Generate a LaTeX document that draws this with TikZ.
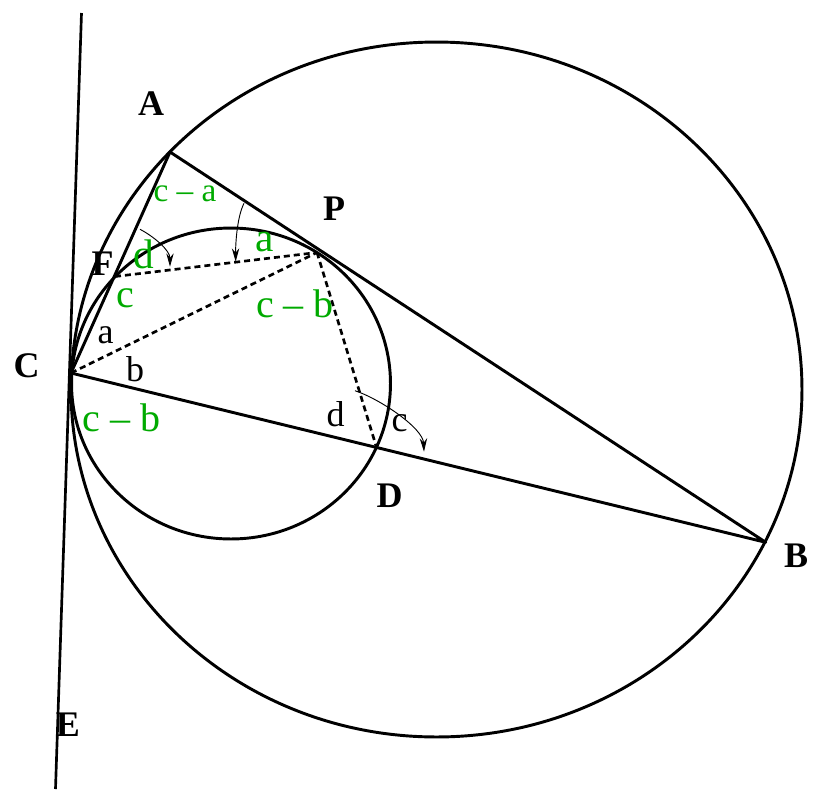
\documentclass[tikz,border=0pt]{standalone}
\usepackage{fontspec}
\setmainfont{Liberation Serif}
\usetikzlibrary{arrows.meta}
\definecolor{lblgreen}{RGB}{0,170,0}
\begin{document}
\begin{tikzpicture}[x=0.75pt,y=-0.75pt,
  mainline/.style={line width=2.2pt, line join=round},
  tanline/.style={line width=2pt},
  dashline/.style={line width=2pt, dash pattern=on 4.5pt off 3pt},
  anglearrow/.style={line width=0.7pt, -{Stealth[length=10pt,width=5.5pt]}},
  ptlabel/.style={font=\fontsize{27}{32}\selectfont\bfseries, anchor=base, inner sep=0pt},
  blabel/.style={font=\fontsize{27}{32}\selectfont, anchor=base, inner sep=0pt},
  glabel/.style={text=lblgreen, anchor=base, inner sep=0pt},
]
\useasboundingbox (0,0) rectangle (827,789);

% points
\coordinate (A) at (170,152);
\coordinate (B) at (765.7,542.3);
\coordinate (C) at (71,373);
\coordinate (P) at (317,252.5);
\coordinate (F) at (115,276.5);
\coordinate (D) at (376.7,448);
\coordinate (T1) at (81.5,13);
\coordinate (T2) at (55.5,789);
\coordinate (O1) at (436.5,389.5);
\coordinate (O2) at (231,383.5);

% circles
\draw[mainline] (O1) ellipse [x radius=274.1pt, y radius=260.6pt];
\draw[mainline] (O2) ellipse [x radius=119.6pt, y radius=116.6pt];

% tangent line
\draw[tanline] (T1) -- (T2);

% triangle
\draw[mainline] (A) -- (B) -- (C) -- cycle;

% dashed chords
\draw[dashline] (F) -- (P);
\draw[dashline] (C) -- (P);
\draw[dashline] (P) -- (D);

% angle arrows
\coordinate (s1) at (140,229.3);
\coordinate (e1) at (170,266.7);
\draw[anglearrow] (s1) .. controls (153,236) and (170,250) .. (e1);
\coordinate (s2) at (244,203.3);
\coordinate (e2) at (235.7,261.7);
\draw[anglearrow] (s2) .. controls (237,217) and (235.5,244) .. (e2);
\coordinate (s3) at (355,390.7);
\coordinate (e3) at (424,451.7);
\draw[anglearrow] (s3) .. controls (380,399) and (423,428) .. (e3);

% point labels
\node[ptlabel] (lA) at (151,115) {A};
\node[ptlabel] (lP) at (334,220) {P};
\node[ptlabel] (lF) at (102.5,275) {F};
\node[ptlabel] (lC) at (26.5,377) {C};
\node[ptlabel] (lD) at (389.5,507) {D};
\node[ptlabel] (lB) at (796,567) {B};
\node[ptlabel] (lE) at (68,736) {E};

% green labels
\node[glabel, font=\fontsize{25}{30}\selectfont] (gca) at (185,201.7) {c – a};
\node[glabel, font=\fontsize{31}{36}\selectfont] (ga) at (264.5,251.7) {a};
\node[glabel, font=\fontsize{31}{36}\selectfont] (gd) at (144,268) {d};
\node[glabel, font=\fontsize{30}{36}\selectfont] (gc) at (125,307) {c};
\node[glabel, font=\fontsize{30}{36}\selectfont] (gcb1) at (295,317) {c – b};
\node[glabel, font=\fontsize{30}{36}\selectfont] (gcb2) at (121.5,431.7) {c – b};

% black labels
\node[blabel] (ba) at (105.5,343.3) {a};
\node[blabel] (bb) at (135,381.7) {b};
\node[blabel] (bd) at (335.5,426) {d};
\node[blabel] (bc) at (399.5,431.7) {c};
\end{tikzpicture}
\end{document}
